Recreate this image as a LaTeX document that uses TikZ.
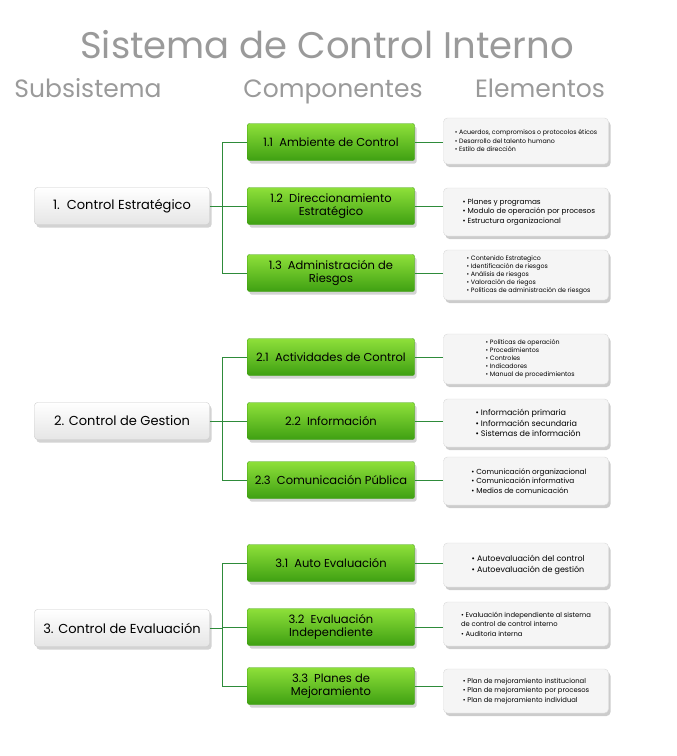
\documentclass[tikz,border=0pt]{standalone}
\usepackage{fontspec}
\setmainfont{Poppins}
\usetikzlibrary{shadows}
\definecolor{gline}{HTML}{2E8B3A}
\definecolor{gtop}{HTML}{8EE03A}
\definecolor{gbot}{HTML}{3FA012}
\definecolor{ttl}{HTML}{9A9A9A}
\tikzset{
 sub/.style={draw=gray!40,rounded corners=3pt,top color=white,bottom color=gray!20,minimum width=175pt,minimum height=37pt,font=\fontsize{13}{15}\selectfont,drop shadow={shadow xshift=2pt,shadow yshift=-3pt,opacity=.35}},
 comp/.style={draw=gbot,rounded corners=2pt,top color=gtop,bottom color=gbot,minimum width=167pt,minimum height=37pt,align=center,font=\fontsize{11.5}{13}\selectfont,drop shadow={shadow xshift=2pt,shadow yshift=-3pt,opacity=.35}},
 elem/.style={draw=gray!30,rounded corners=4pt,fill=gray!8,minimum width=165pt,align=left,inner xsep=6pt,drop shadow={shadow xshift=2pt,shadow yshift=-3pt,opacity=.4}},
 conn/.style={gline,line width=0.8pt},
 hdr/.style={ttl,font=\fontsize{25}{27}\selectfont,anchor=base}
}
\begin{document}
\begin{tikzpicture}[x=1pt,y=-1pt]
\useasboundingbox (0,0) rectangle (677,756);
\node[ttl,font=\fontsize{37}{40}\selectfont] (title) at (327,45) {Sistema de Control Interno};
\node[hdr] (h1) at (88,97) {Subsistema};
\node[hdr] (h2) at (333,97) {Componentes};
\node[hdr] (h3) at (540,97) {Elementos};
\node[sub] (s1) at (122,206) {1.\ \ Control Estratégico};
\node[sub] (s2) at (122,421) {2. Control de Gestion};
\node[sub] (s3) at (122,628) {3. Control de Evaluación};
\node[comp] (c11) at (331,142) {1.1\ \ Ambiente de Control};
\node[comp] (c12) at (331,206) {1.2\ \ Direccionamiento\\Estratégico};
\node[comp] (c13) at (331,273) {1.3\ \ Administración de\\Riesgos};
\node[comp] (c21) at (331,357) {2.1\ \ Actividades de Control};
\node[comp] (c22) at (331,421) {2.2\ \ Información};
\node[comp] (c23) at (331,480) {2.3\ \ Comunicación Pública};
\node[comp] (c31) at (331,563) {3.1\ \ Auto Evaluación};
\node[comp] (c32) at (331,627) {3.2\ \ Evaluación\\Independiente};
\node[comp] (c33) at (331,686) {3.3\ \ Planes de\\Mejoramiento};
\node[elem,minimum height=46pt,font=\fontsize{6.3}{8.5}\selectfont] (e11) at (526,141) {• Acuerdos, compromisos o protocolos éticos\\• Desarrollo del talento humano\\• Estilo de dirección};
\node[elem,minimum height=48pt,font=\fontsize{7.3}{9.5}\selectfont] (e12) at (526,212) {\ \ \ • Planes y programas\\\ \ \ • Modulo de operación por procesos\\\ \ \ • Estructura organizacional};
\node[elem,minimum height=50pt,font=\fontsize{6.3}{8}\selectfont] (e13) at (526,275) {\ \ \ • Contenido Estrategico\\\ \ \ • Identificación de riesgos\\\ \ \ • Análisis de riesgos\\\ \ \ • Valoración de riegos\\\ \ \ • Politicas de administración de riesgos};
\node[elem,minimum height=50pt,font=\fontsize{6.3}{8}\selectfont] (e21) at (526,359) {\ \ \ \ \ • Políticas de operación\\\ \ \ \ \ • Procedimientos\\\ \ \ \ \ • Controles\\\ \ \ \ \ • Indicadores\\\ \ \ \ \ • Manual de procedimientos};
\node[elem,minimum height=48pt,font=\fontsize{8}{10.5}\selectfont] (e22) at (526,423) {\ \ • Información primaria\\\ \ • Información secundaria\\\ \ • Sistemas de información};
\node[elem,minimum height=48pt,font=\fontsize{7.3}{9.5}\selectfont] (e23) at (526,481) {\ \ \ • Comunicación organizacional\\\ \ \ • Comunicación informativa\\\ \ \ • Medios de comunicación};
\node[elem,minimum height=44pt,font=\fontsize{8}{11}\selectfont] (e31) at (526,565) {\ \ • Autoevaluación del control\\\ \ • Autoevaluación de gestión};
\node[elem,minimum height=44pt,font=\fontsize{6.8}{9.5}\selectfont] (e32) at (526,624) {• Evaluación independiente al sistema\\de control de control interno\\• Auditoria interna};
\node[elem,minimum height=44pt,font=\fontsize{6.8}{9.5}\selectfont] (e33) at (526,691) {• Plan de mejoramiento institucional\\• Plan de mejoramiento por procesos\\• Plan de mejoramiento individual};
\foreach \s/\a/\b/\c in {s1/c11/c12/c13,s2/c21/c22/c23,s3/c31/c32/c33}{
 \draw[conn] (\s.east) -- (\s.east -| 222,0);
 \draw[conn] (\a.west) -| (222,0 |- \c.west) -- (\c.west);
 \draw[conn] (\b.west) -- (\b.west -| 222,0);
}
\foreach \c/\e in {c11/e11,c12/e12,c13/e13,c21/e21,c22/e22,c23/e23,c31/e31,c32/e32,c33/e33}
 \draw[conn] (\c.east) -- (\c.east -| \e.west);
\end{tikzpicture}
\end{document}
